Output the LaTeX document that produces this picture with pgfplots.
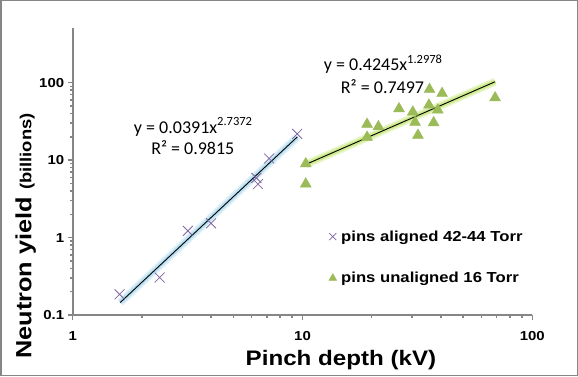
\documentclass[border=0pt]{standalone}
\usepackage{fontspec}
\usepackage{pgfplots}
\pgfplotsset{compat=1.18}
\setmainfont{Liberation Sans}
\newfontfamily\blk[FakeStretch=1.15]{Liberation Sans Bold}
\newfontfamily\eqf{Carlito}
\definecolor{xpurple}{RGB}{128,100,162}
\definecolor{tgreen}{RGB}{155,187,89}
\definecolor{axgray}{RGB}{134,134,134}
\definecolor{glowblue}{RGB}{160,212,236}
\definecolor{glowgreen}{RGB}{190,226,100}
\pgfplotsset{
  legx/.style={legend image code/.code={\draw[##1,mark size=5pt] plot coordinates {(0pt,0pt)};}},
  legt/.style={legend image code/.code={\draw[##1,mark size=4.5pt] plot coordinates {(0pt,0pt)};}},
}

\begin{document}
\begin{tikzpicture}
\begin{axis}[
  at={(72.7pt,61pt)}, anchor=south west,
  scale only axis, width=459.6pt, height=287pt,
  xmode=log, ymode=log,
  xmin=1, xmax=100, ymin=0.1, ymax=509,
  axis x line*=bottom, axis y line*=left,
  axis line style={axgray, line width=1.8pt},
  xtick={1,10,100},
  xticklabels={\mbox{1},\mbox{10},\mbox{100}},
  ytick={0.1,1,10,100},
  yticklabels={\mbox{0.1},\mbox{1},\mbox{10},\mbox{100}},
  minor xtick={}, minor ytick={},
  tick align=outside, major tick length=5pt,
  tick style={axgray, line width=1.5pt},
  ticklabel style={font=\blk\fontsize{13}{15}\selectfont},
  xticklabel style={yshift=-8pt},
  clip=false,
  legend style={at={(0.557,0.3017)}, anchor=north west, draw=none, fill=none,
    font=\blk\fontsize{14.5}{16}\selectfont, row sep=25.5pt, column sep=2.5pt, inner sep=0pt},
  legend cell align=left,
]
% glow of trendlines
\addplot[forget plot, glowblue, line width=8pt, opacity=0.35] coordinates {(1.61,0.145) (9.5,20)};
\addplot[forget plot, glowblue, line width=4.5pt, opacity=0.6] coordinates {(1.61,0.145) (9.5,20)};
\addplot[forget plot, glowgreen, line width=8pt, opacity=0.35] coordinates {(10.33,8.8) (68.9,103)};
\addplot[forget plot, glowgreen, line width=4.5pt, opacity=0.6] coordinates {(10.33,8.8) (68.9,103)};

\addplot[only marks, mark=x, mark size=7pt, color=xpurple, line width=0.8pt, legx]
  coordinates {
  (1.60,0.185) (2.39,0.305) (3.17,1.22) (4.0,1.53) (6.3,5.9) (6.4,4.9) (7.16,10.5) (9.48,21.8)
  };
\addlegendentry{pins aligned 42-44 Torr}

\addplot[only marks, mark=triangle*, mark size=6.3pt, color=tgreen, draw=none, fill=tgreen, legt]
  coordinates {
  (10.33,8.99) (10.33,4.93) (19.1,29.1) (19.1,19.8) (21.4,27.1) (26.3,46.2)
  (30.2,41.9) (30.9,30.9) (31.8,21.0) (35.7,82) (35.5,51.5) (37.2,30.5)
  (38.8,44.5) (40.5,72.9) (68.9,64.0)
  };
\addlegendentry{pins unaligned 16 Torr}

% trendlines
\addplot[forget plot, black, line width=0.9pt] coordinates {(1.61,0.145) (9.5,20)};
\addplot[forget plot, black, line width=0.9pt] coordinates {(10.33,8.8) (68.9,103)};
\end{axis}

% equations
\node[anchor=base, font=\eqf\fontsize{18}{21}\selectfont, inner sep=0pt] at (193pt,242.7pt)
  {y = 0.0391x\raisebox{0.42em}{\fontsize{12.5}{14}\selectfont 2.7372}};
\node[anchor=base, font=\eqf\fontsize{18}{21}\selectfont, inner sep=0pt] at (192.8pt,222pt)
  {R² = 0.9815};
\node[anchor=base, font=\eqf\fontsize{18}{21}\selectfont, inner sep=0pt] at (383pt,305.3pt)
  {y = 0.4245x\raisebox{0.42em}{\fontsize{12.5}{14}\selectfont 1.2978}};
\node[anchor=base, font=\eqf\fontsize{18}{21}\selectfont, inner sep=0pt] at (382.5pt,282.7pt)
  {R² = 0.7497};

% axis titles
\node[anchor=base, font=\blk\fontsize{21}{24}\selectfont, inner sep=0pt] at (341pt,11pt)
  {Pinch depth (kV)};
\node[rotate=90, anchor=base east, font=\blk\fontsize{22}{24}\selectfont, inner sep=0pt] at (31.5pt,263pt)
  {Neutron yield {\fontsize{16}{18}\selectfont(billions)}};

% outer frame
\draw[axgray, line width=1.5pt] (0.75pt,0.75pt) rectangle (577.25pt,375.25pt);
\pgfresetboundingbox
\useasboundingbox (0pt,0pt) rectangle (578pt,376pt);
\end{tikzpicture}
\end{document}
